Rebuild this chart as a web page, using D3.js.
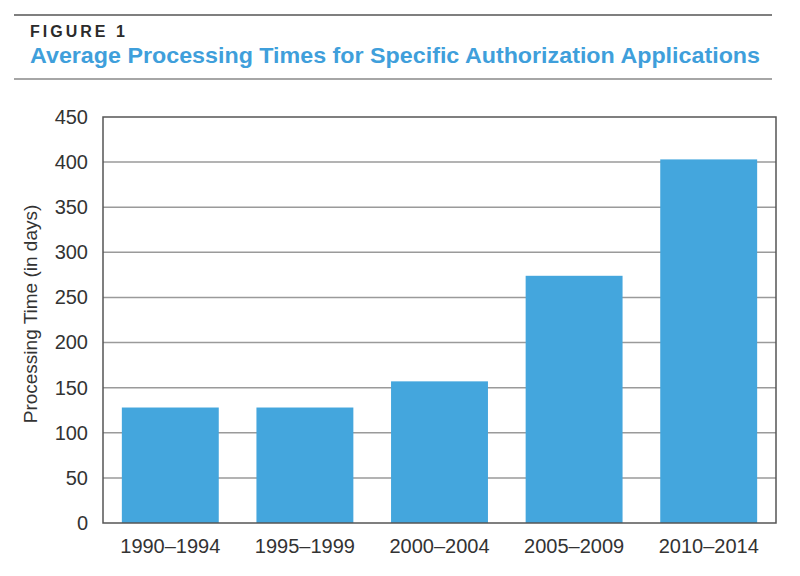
<!DOCTYPE html>
<html>
<head>
<meta charset="utf-8">
<script src="https://cdn.jsdelivr.net/npm/d3@7"></script>
<style>
  body { margin: 0; background: #fff; }
  text { font-family: "Liberation Sans", Arial, sans-serif; }
</style>
</head>
<body>
<svg id="bar-chart" width="800" height="576"></svg>
<script>
// Chart data
var periods = ["1990\u20131994", "1995\u20131999", "2000\u20132004", "2005\u20132009", "2010\u20132014"];
var days = [128, 128, 157, 274, 403];
var yTicks = [0, 50, 100, 150, 200, 250, 300, 350, 400, 450];

var svg = d3.select("#bar-chart");

// Header rules and titles
svg.append("line")
   .attr("x1", 14).attr("x2", 772).attr("y1", 15).attr("y2", 15)
   .attr("stroke", "#555").attr("stroke-width", 1.5);
svg.append("line")
   .attr("x1", 14).attr("x2", 772).attr("y1", 79).attr("y2", 79)
   .attr("stroke", "#888").attr("stroke-width", 1.5);

svg.append("text")
   .attr("x", 30).attr("y", 37)
   .attr("font-size", 16).attr("font-weight", "bold")
   .attr("letter-spacing", 3)
   .attr("fill", "#2b2b2b")
   .text("FIGURE 1");

svg.append("text")
   .attr("x", 30).attr("y", 63)
   .attr("font-size", 22.5).attr("font-weight", "bold")
   .attr("font-family", "'Liberation Sans Narrow', 'Liberation Sans', Arial, sans-serif")
   .attr("fill", "#3f9fdb")
   .attr("textLength", 730).attr("lengthAdjust", "spacingAndGlyphs")
   .text("Average Processing Times for Specific Authorization Applications");

// Plot area
var margin = {top: 117, right: 24, bottom: 53, left: 103},
    width = 800 - margin.left - margin.right,
    height = 576 - margin.top - margin.bottom;

var g = svg.append("g")
   .attr("transform", "translate(" + margin.left + "," + margin.top + ")");

var x = d3.scaleBand().domain(periods).range([0, width])
          .paddingInner(0.28).paddingOuter(0.14);
var y = d3.scaleLinear().domain([0, 450]).range([height, 0]);

// Grid lines
g.append("g")
 .selectAll("line")
 .data(yTicks.slice(1, -1))
 .enter().append("line")
 .attr("x1", 0).attr("x2", width)
 .attr("y1", function(d) { return y(d); })
 .attr("y2", function(d) { return y(d); })
 .attr("stroke", "#9a9a9a").attr("stroke-width", 1.5);

// Bars
g.selectAll(".bar")
 .data(days)
 .enter().append("rect")
 .attr("class", "bar")
 .attr("x", function(d, i) { return x(periods[i]); })
 .attr("width", x.bandwidth())
 .attr("y", function(d) { return y(d); })
 .attr("height", function(d) { return height - y(d); })
 .attr("fill", "#44a6dd");

// Frame
g.append("rect")
 .attr("x", 0).attr("y", 0).attr("width", width).attr("height", height)
 .attr("fill", "none").attr("stroke", "#555").attr("stroke-width", 1.5);

// Y axis
var yAxis = g.append("g")
 .call(d3.axisLeft(y).tickValues(yTicks).tickSize(0).tickPadding(15));
yAxis.select(".domain").remove();
yAxis.selectAll("text")
 .attr("font-size", 20).attr("fill", "#333")
 .attr("font-family", "'Liberation Sans', Arial, sans-serif");

// X axis
var xAxis = g.append("g")
 .attr("transform", "translate(0," + height + ")")
 .call(d3.axisBottom(x).tickSize(0).tickPadding(16));
xAxis.select(".domain").remove();
xAxis.selectAll("text")
 .attr("font-size", 20).attr("fill", "#333")
 .attr("font-family", "'Liberation Sans', Arial, sans-serif");

// Y axis title
svg.append("text")
   .attr("transform", "translate(37,314) rotate(-90)")
   .attr("text-anchor", "middle")
   .attr("font-size", 19).attr("fill", "#333")
   .text("Processing Time (in days)");
</script>
</body>
</html>
